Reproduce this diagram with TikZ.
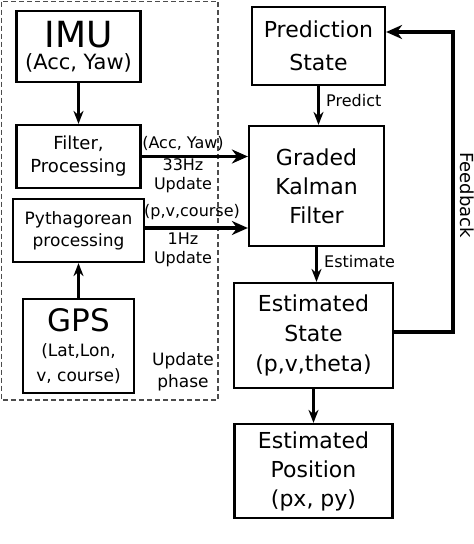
\documentclass[tikz,border=0pt]{standalone}
\usepackage{fontspec}
\setmainfont{DejaVu Sans}
\usetikzlibrary{arrows.meta}

\tikzset{
  box/.style={draw, line width=2.2pt, align=center, inner sep=0pt},
  flow/.style={line width=2.2pt, -{Stealth[length=13pt,width=10pt]}},
  bigflow/.style={line width=3.2pt, -{Stealth[length=16pt,width=14pt]}},
  lbl/.style={align=center, inner sep=0pt, font=\fontsize{16}{19}\selectfont},
}

\begin{document}
\begin{tikzpicture}[x=1pt, y=-1pt]
  \useasboundingbox (0,0) rectangle (474,544);
  % update phase frame
  \draw[gray!60!black, line width=1.4pt, dash pattern=on 5pt off 3pt] (1.5,1.5) rectangle (218,400);
  \node[lbl, font=\fontsize{17}{22}\selectfont] (phase) at (183,372) {Update\\phase};

  % sensor side
  \node[box, minimum width=124pt, minimum height=71pt, font=\fontsize{21}{22}\selectfont] (imu) at (78.5,46.5)
       {{\fontsize{36}{36}\selectfont IMU}\\(Acc, Yaw)};
  \node[box, minimum width=124pt, minimum height=63pt, font=\fontsize{18}{23}\selectfont] (filt) at (78.5,156.5)
       {Filter,\\Processing};
  \node[box, minimum width=131pt, minimum height=63pt, font=\fontsize{17}{22}\selectfont] (pyth) at (78.5,230.5)
       {Pythagorean\\processing};
  \node[box, minimum width=111pt, minimum height=94pt, font=\fontsize{17}{25}\selectfont] (gps) at (78.5,346)
       {{\fontsize{31}{31}\selectfont GPS}\\(Lat,Lon,\\v, course)};

  % filter side
  \node[box, minimum width=133pt, minimum height=78pt, font=\fontsize{22}{33}\selectfont] (pred) at (318.5,46)
       {Prediction\\State};
  \node[box, minimum width=135pt, minimum height=120pt, font=\fontsize{22}{29}\selectfont] (kal) at (316.5,186)
       {Graded\\Kalman\\Filter};
  \node[box, minimum width=159pt, minimum height=105pt, font=\fontsize{22}{30}\selectfont] (est) at (313.5,335.5)
       {Estimated\\State\\(p,v,theta)};
  \node[box, minimum width=158pt, minimum height=94pt, font=\fontsize{22}{29}\selectfont] (pos) at (313.5,471)
       {Estimated\\Position\\(px, py)};

  % connectors
  \draw[flow] (imu.south) -- (filt.north);
  \draw[flow] (gps.north) -- (pyth.south);
  \draw[bigflow] (filt.east) -- (filt.east -| kal.west);
  \draw[bigflow] (pyth.east |- 0,228) -- (kal.west |- 0,228);
  \draw[flow] (pred.south) -- (pred.south |- kal.north);
  \draw[flow] (kal.south) -- (kal.south |- est.north);
  \draw[flow] (est.south) -- (est.south |- pos.north);
  \coordinate (fbc) at (453,32);
  \draw[bigflow] (est.east |- 0,332) -| (fbc) -- (pred.east |- fbc);

  % labels on the connectors
  \node[lbl] (acc) at (183,143) {(Acc, Yaw)};
  \node[lbl] (r33) at (183,176) {33Hz\\Update};
  \node[lbl] (pvc) at (192,212) {(p,v,course)};
  \node[lbl] (r1) at (183,250) {1Hz\\Update};
  \node[lbl, anchor=west] (prd) at (326,101) {Predict};
  \node[lbl, anchor=west] (esl) at (324,262) {Estimate};
  \node[lbl, font=\fontsize{18}{22}\selectfont, rotate=-90] (fb) at (467,195) {Feedback};
\end{tikzpicture}
\end{document}
